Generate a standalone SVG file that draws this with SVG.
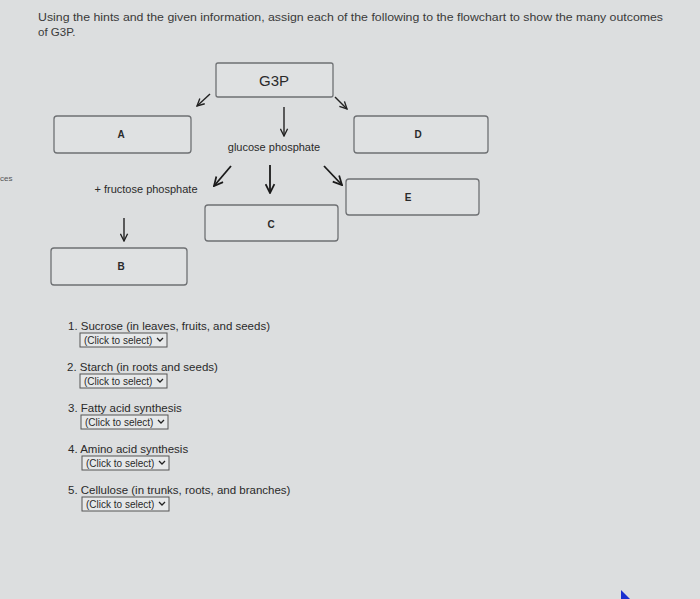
<svg xmlns="http://www.w3.org/2000/svg" width="700" height="599" viewBox="0 0 700 599">
<style>
text{font-family:"Liberation Sans",Arial,sans-serif;fill:#2a2a2a}
.box{fill:#dfe1e2;stroke:#6e7073;stroke-width:1.3}
.lbl{font-size:10px;font-weight:bold;text-anchor:middle}
.arr{stroke:#222;stroke-width:1.4;fill:none}
.arr2{stroke:#1a1a1a;stroke-width:1.8;fill:none}
.sel{fill:#e6e8e9;stroke:#555;stroke-width:1}
.item{font-size:11.5px}
.st{font-size:10px}
</style>
<defs>
<marker id="ah" viewBox="0 0 10 10" refX="9" refY="5" markerWidth="9" markerHeight="9" orient="auto" markerUnits="userSpaceOnUse">
<path d="M1,1 L9,5 L1,9" fill="none" stroke="#222" stroke-width="1.5"/>
</marker>
<marker id="ah2" viewBox="0 0 10 10" refX="9" refY="5" markerWidth="11" markerHeight="11" orient="auto" markerUnits="userSpaceOnUse">
<path d="M1,1 L9,5 L1,9" fill="none" stroke="#1a1a1a" stroke-width="1.6"/>
</marker>
</defs>
<rect width="700" height="599" fill="#dcdedf"/>
<text x="0" y="181" style="font-size:8px;fill:#555">ces</text>
<text x="38" y="21" style="font-size:11.5px;fill:#3a3a3a" textLength="625" lengthAdjust="spacingAndGlyphs">Using the hints and the given information, assign each of the following to the flowchart to show the many outcomes</text>
<text x="38" y="36" style="font-size:11.5px;fill:#3a3a3a">of G3P.</text>

<g id="g3p"><rect class="box" x="216" y="63" width="117" height="34" rx="2"/><text x="274" y="86" style="font-size:15px;text-anchor:middle">G3P</text></g>
<g id="A"><rect class="box" x="54" y="116" width="137" height="37" rx="3"/><text class="lbl" x="121" y="138">A</text></g>
<g id="D"><rect class="box" x="354" y="116" width="134" height="37" rx="3"/><text class="lbl" x="418" y="138">D</text></g>
<g id="glucose"><text x="274" y="151" style="font-size:11px;text-anchor:middle">glucose phosphate</text></g>
<g id="fructose"><text x="146" y="193" style="font-size:11px;text-anchor:middle">+ fructose phosphate</text></g>
<g id="E"><rect class="box" x="346" y="179" width="133" height="36" rx="3"/><text class="lbl" x="408" y="201">E</text></g>
<g id="C"><rect class="box" x="205" y="205" width="133" height="36" rx="3"/><text class="lbl" x="271" y="228">C</text></g>
<g id="B"><rect class="box" x="51" y="248" width="136" height="37" rx="3"/><text class="lbl" x="121" y="270">B</text></g>

<g id="connectors">
<line class="arr" x1="210" y1="94" x2="197" y2="106" marker-end="url(#ah)"/>
<line class="arr" x1="335" y1="97" x2="347" y2="109" marker-end="url(#ah)"/>
<line class="arr" x1="284" y1="107" x2="284" y2="136" marker-end="url(#ah)"/>
<line class="arr2" x1="231" y1="166" x2="214" y2="186" marker-end="url(#ah2)"/>
<line class="arr2" x1="270" y1="165" x2="270" y2="193" marker-end="url(#ah2)"/>
<line class="arr2" x1="324" y1="166" x2="342" y2="185" marker-end="url(#ah2)"/>
<line class="arr" x1="124" y1="218" x2="124" y2="241" marker-end="url(#ah)"/>
</g>

<g id="list">
<text class="item" x="68" y="330">1. Sucrose (in leaves, fruits, and seeds)</text>
<rect class="sel" x="80" y="333" width="87" height="14"/><text class="st" x="84" y="344">(Click to select)</text><path d="M157,338 l3,3 l3,-3" fill="none" stroke="#222" stroke-width="1.3"/>
<text class="item" x="67" y="371">2. Starch (in roots and seeds)</text>
<rect class="sel" x="80" y="374" width="87" height="14"/><text class="st" x="84" y="385">(Click to select)</text><path d="M157,379 l3,3 l3,-3" fill="none" stroke="#222" stroke-width="1.3"/>
<text class="item" x="68" y="412">3. Fatty acid synthesis</text>
<rect class="sel" x="81" y="415" width="87" height="14"/><text class="st" x="85" y="426">(Click to select)</text><path d="M158,420 l3,3 l3,-3" fill="none" stroke="#222" stroke-width="1.3"/>
<text class="item" x="68" y="453">4. Amino acid synthesis</text>
<rect class="sel" x="82" y="456" width="87" height="14"/><text class="st" x="86" y="467">(Click to select)</text><path d="M159,461 l3,3 l3,-3" fill="none" stroke="#222" stroke-width="1.3"/>
<text class="item" x="68" y="494">5. Cellulose (in trunks, roots, and branches)</text>
<rect class="sel" x="82" y="497" width="87" height="14"/><text class="st" x="86" y="508">(Click to select)</text><path d="M159,502 l3,3 l3,-3" fill="none" stroke="#222" stroke-width="1.3"/>
</g>
<polygon points="621,590 630,599 621,599" fill="#1a2fd0"/>
</svg>
